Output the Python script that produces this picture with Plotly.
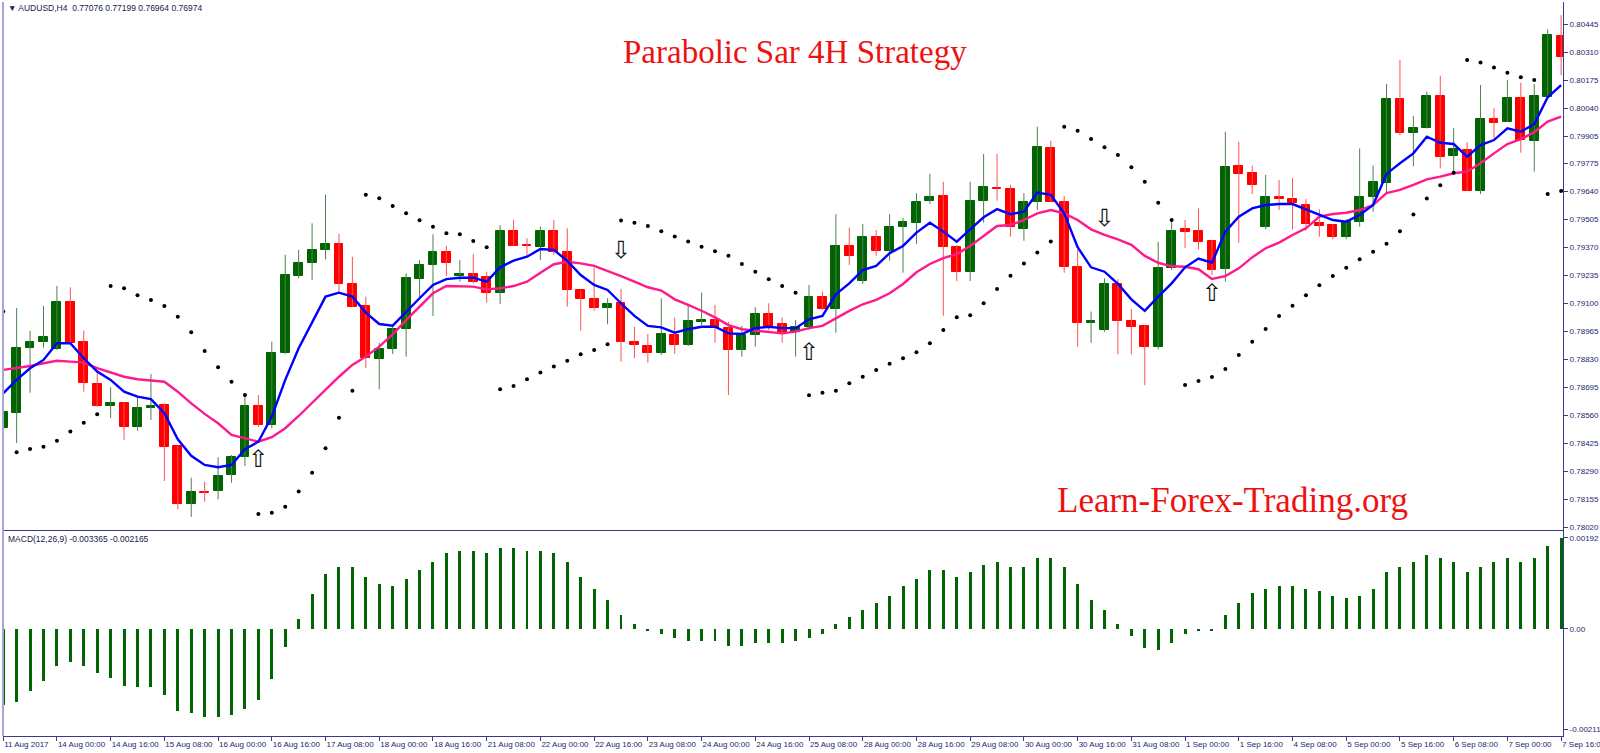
import plotly.graph_objects as go

# ---------------- data ----------------
time_labels = ["11 Aug 2017", "14 Aug 00:00", "14 Aug 16:00", "15 Aug 08:00", "16 Aug 00:00",
               "16 Aug 16:00", "17 Aug 08:00", "18 Aug 00:00", "18 Aug 16:00", "21 Aug 08:00",
               "22 Aug 00:00", "22 Aug 16:00", "23 Aug 08:00", "24 Aug 00:00", "24 Aug 16:00",
               "25 Aug 08:00", "28 Aug 00:00", "28 Aug 16:00", "29 Aug 08:00", "30 Aug 00:00",
               "30 Aug 16:00", "31 Aug 08:00", "1 Sep 00:00", "1 Sep 16:00", "4 Sep 08:00",
               "5 Sep 00:00", "5 Sep 16:00", "6 Sep 08:00", "7 Sep 00:00", "7 Sep 16:00"]
label_every = 4

opens = [0.78499, 0.78573, 0.78883, 0.78915, 0.78880, 0.79106, 0.78912, 0.78711, 0.78605, 0.78618,
         0.78503, 0.78596, 0.78609, 0.78413, 0.78133, 0.78191, 0.78196, 0.78273, 0.78358, 0.78605,
         0.78514, 0.78859, 0.79231, 0.79295, 0.79357, 0.79386, 0.79191, 0.79087, 0.78830, 0.78878,
         0.78976, 0.79218, 0.79284, 0.79347, 0.79233, 0.79240, 0.79228, 0.79151, 0.79450, 0.79379,
         0.79372, 0.79450, 0.79348, 0.79164, 0.79119, 0.79077, 0.79100, 0.78915, 0.78896, 0.78862,
         0.78947, 0.78899, 0.79011, 0.79018, 0.78980, 0.78875, 0.78947, 0.79048, 0.79000, 0.78963,
         0.78984, 0.79132, 0.79071, 0.79376, 0.79207, 0.79421, 0.79350, 0.79466, 0.79488, 0.79593,
         0.79617, 0.79372, 0.79252, 0.79594, 0.79657, 0.79650, 0.79458, 0.79588, 0.79849, 0.79589,
         0.79273, 0.79004, 0.78971, 0.79193, 0.79016, 0.78991, 0.78891, 0.79268, 0.79456, 0.79450,
         0.79400, 0.79264, 0.79761, 0.79726, 0.79466, 0.79613, 0.79601, 0.79573, 0.79488, 0.79477,
         0.79421, 0.79491, 0.79613, 0.79681, 0.80085, 0.79919, 0.79943, 0.80098, 0.79811, 0.79838,
         0.79642, 0.79986, 0.79975, 0.80087, 0.79883, 0.80095, 0.80387]

highs = [0.78610, 0.79077, 0.78967, 0.79087, 0.79183, 0.79177, 0.78968, 0.78771, 0.78695, 0.78621,
         0.78650, 0.78759, 0.78618, 0.78413, 0.78260, 0.78241, 0.78358, 0.78369, 0.78658, 0.78658,
         0.78915, 0.79333, 0.79357, 0.79485, 0.79622, 0.79434, 0.79324, 0.79132, 0.78909, 0.78986,
         0.79244, 0.79308, 0.79432, 0.79377, 0.79308, 0.79337, 0.79252, 0.79476, 0.79501, 0.79413,
         0.79469, 0.79501, 0.79461, 0.79164, 0.79271, 0.79124, 0.79169, 0.78987, 0.78952, 0.79124,
         0.79031, 0.79087, 0.79151, 0.79092, 0.79011, 0.78991, 0.79081, 0.79100, 0.79032, 0.79019,
         0.79188, 0.79156, 0.79529, 0.79464, 0.79482, 0.79453, 0.79529, 0.79512, 0.79630, 0.79723,
         0.79685, 0.79381, 0.79685, 0.79819, 0.79819, 0.79670, 0.79630, 0.79950, 0.79883, 0.79617,
         0.79357, 0.79060, 0.79220, 0.79216, 0.79072, 0.78995, 0.79397, 0.79505, 0.79501, 0.79557,
         0.79405, 0.79926, 0.79878, 0.79763, 0.79718, 0.79694, 0.79702, 0.79601, 0.79553, 0.79482,
         0.79505, 0.79846, 0.79763, 0.80156, 0.80272, 0.80002, 0.80119, 0.80196, 0.79943, 0.79875,
         0.80151, 0.80039, 0.80175, 0.80162, 0.80156, 0.80419, 0.80488]

lows = [0.78461, 0.78427, 0.78669, 0.78886, 0.78875, 0.78909, 0.78674, 0.78601, 0.78546, 0.78442,
        0.78486, 0.78538, 0.78244, 0.78108, 0.78071, 0.78144, 0.78156, 0.78236, 0.78316, 0.78503,
        0.78498, 0.78856, 0.79220, 0.79212, 0.79312, 0.79156, 0.79082, 0.78787, 0.78686, 0.78856,
        0.78843, 0.79116, 0.79039, 0.79231, 0.79204, 0.79196, 0.79103, 0.79097, 0.79376, 0.79331,
        0.79308, 0.79333, 0.79084, 0.78968, 0.79064, 0.78999, 0.78819, 0.78835, 0.78814, 0.78851,
        0.78856, 0.78894, 0.78995, 0.78910, 0.78658, 0.78843, 0.78891, 0.78971, 0.78910, 0.78843,
        0.78971, 0.79068, 0.78958, 0.79284, 0.79193, 0.79329, 0.79305, 0.79247, 0.79386, 0.79578,
        0.79040, 0.79207, 0.79207, 0.79488, 0.79594, 0.79421, 0.79401, 0.79549, 0.79588, 0.79247,
        0.78891, 0.78910, 0.78963, 0.78854, 0.78854, 0.78706, 0.78878, 0.79260, 0.79365, 0.79360,
        0.79236, 0.79204, 0.79392, 0.79626, 0.79456, 0.79549, 0.79456, 0.79450, 0.79421, 0.79408,
        0.79408, 0.79469, 0.79541, 0.79630, 0.79910, 0.79761, 0.79942, 0.79750, 0.79734, 0.79641,
        0.79626, 0.79895, 0.79973, 0.79825, 0.79734, 0.80093, 0.80199]

closes = [0.78576, 0.78883, 0.78912, 0.78938, 0.79106, 0.78910, 0.78715, 0.78605, 0.78618, 0.78503,
          0.78596, 0.78605, 0.78409, 0.78133, 0.78191, 0.78185, 0.78268, 0.78358, 0.78605, 0.78514,
          0.78859, 0.79236, 0.79292, 0.79357, 0.79386, 0.79191, 0.79084, 0.78835, 0.78880, 0.78976,
          0.79220, 0.79284, 0.79347, 0.79292, 0.79240, 0.79204, 0.79151, 0.79450, 0.79377, 0.79374,
          0.79450, 0.79347, 0.79165, 0.79119, 0.79077, 0.79097, 0.78915, 0.78900, 0.78862, 0.78951,
          0.78899, 0.79015, 0.79018, 0.78980, 0.78875, 0.78947, 0.79048, 0.78987, 0.78963, 0.78987,
          0.79132, 0.79071, 0.79376, 0.79328, 0.79421, 0.79350, 0.79469, 0.79491, 0.79589, 0.79613,
          0.79370, 0.79252, 0.79594, 0.79659, 0.79649, 0.79466, 0.79588, 0.79854, 0.79589, 0.79273,
          0.79004, 0.79016, 0.79193, 0.79016, 0.78987, 0.78891, 0.79271, 0.79450, 0.79445, 0.79397,
          0.79260, 0.79755, 0.79721, 0.79670, 0.79613, 0.79601, 0.79582, 0.79482, 0.79474, 0.79418,
          0.79493, 0.79613, 0.79683, 0.80082, 0.79919, 0.79946, 0.80098, 0.79806, 0.79843, 0.79642,
          0.79986, 0.79970, 0.80087, 0.79886, 0.80098, 0.80392, 0.80288]

sar = [0.79060, 0.78382, 0.78398, 0.78409, 0.78438, 0.78482, 0.78525, 0.78565, 0.79183, 0.79172,
       0.79138, 0.79116, 0.79087, 0.79035, 0.78960, 0.78870, 0.78792, 0.78722, 0.78658, 0.78085,
       0.78091, 0.78120, 0.78193, 0.78284, 0.78402, 0.78549, 0.78678, 0.79622, 0.79606, 0.79568,
       0.79533, 0.79500, 0.79469, 0.79437, 0.79432, 0.79400, 0.79370, 0.78686, 0.78702, 0.78734,
       0.78766, 0.78795, 0.78823, 0.78854, 0.78875, 0.78902, 0.79498, 0.79488, 0.79472, 0.79447,
       0.79421, 0.79397, 0.79372, 0.79350, 0.79329, 0.79289, 0.79252, 0.79216, 0.79183, 0.79151,
       0.78657, 0.78669, 0.78678, 0.78715, 0.78746, 0.78779, 0.78808, 0.78835, 0.78864, 0.78907,
       0.78971, 0.79032, 0.79042, 0.79100, 0.79169, 0.79233, 0.79292, 0.79344, 0.79397, 0.79950,
       0.79931, 0.79891, 0.79851, 0.79814, 0.79755, 0.79685, 0.79584, 0.79501, 0.78706, 0.78726,
       0.78745, 0.78783, 0.78851, 0.78914, 0.78976, 0.79039, 0.79088, 0.79138, 0.79187, 0.79231,
       0.79271, 0.79312, 0.79348, 0.79386, 0.79447, 0.79527, 0.79604, 0.79668, 0.79729, 0.80272,
       0.80259, 0.80235, 0.80210, 0.80188, 0.80175, 0.79626, 0.79641]

ma_fast = [0.78666, 0.78731, 0.78787, 0.78827, 0.78907, 0.78907, 0.78835, 0.78771, 0.78731, 0.78674,
           0.78650, 0.78638, 0.78570, 0.78445, 0.78365, 0.78321, 0.78310, 0.78321, 0.78397, 0.78433,
           0.78554, 0.78731, 0.78883, 0.79004, 0.79132, 0.79151, 0.79132, 0.79055, 0.79000, 0.78992,
           0.79060, 0.79124, 0.79188, 0.79216, 0.79223, 0.79223, 0.79204, 0.79273, 0.79305, 0.79324,
           0.79361, 0.79357, 0.79304, 0.79236, 0.79188, 0.79164, 0.79100, 0.79039, 0.78991, 0.78984,
           0.78958, 0.78975, 0.78987, 0.78987, 0.78955, 0.78952, 0.78980, 0.78987, 0.78980, 0.78980,
           0.79023, 0.79039, 0.79143, 0.79196, 0.79260, 0.79280, 0.79341, 0.79376, 0.79440, 0.79488,
           0.79445, 0.79397, 0.79456, 0.79514, 0.79553, 0.79529, 0.79541, 0.79633, 0.79622, 0.79533,
           0.79370, 0.79273, 0.79252, 0.79193, 0.79119, 0.79063, 0.79132, 0.79196, 0.79273, 0.79315,
           0.79295, 0.79445, 0.79517, 0.79557, 0.79573, 0.79578, 0.79578, 0.79553, 0.79525, 0.79501,
           0.79493, 0.79525, 0.79573, 0.79723, 0.79774, 0.79822, 0.79902, 0.79873, 0.79867, 0.79806,
           0.79862, 0.79886, 0.79943, 0.79926, 0.79963, 0.80092, 0.80151]

ma_slow = [0.78779, 0.78787, 0.78798, 0.78811, 0.78823, 0.78819, 0.78814, 0.78787, 0.78766, 0.78746,
           0.78734, 0.78727, 0.78722, 0.78674, 0.78618, 0.78567, 0.78522, 0.78466, 0.78450, 0.78433,
           0.78455, 0.78498, 0.78557, 0.78621, 0.78682, 0.78746, 0.78803, 0.78843, 0.78891, 0.78950,
           0.79019, 0.79084, 0.79148, 0.79183, 0.79183, 0.79180, 0.79167, 0.79172, 0.79183, 0.79204,
           0.79247, 0.79288, 0.79300, 0.79292, 0.79280, 0.79257, 0.79231, 0.79204, 0.79177, 0.79161,
           0.79119, 0.79092, 0.79064, 0.79032, 0.78995, 0.78975, 0.78968, 0.78963, 0.78955, 0.78963,
           0.78980, 0.78991, 0.79028, 0.79063, 0.79095, 0.79116, 0.79148, 0.79193, 0.79249, 0.79289,
           0.79317, 0.79337, 0.79376, 0.79424, 0.79472, 0.79477, 0.79501, 0.79533, 0.79549, 0.79533,
           0.79501, 0.79456, 0.79429, 0.79408, 0.79381, 0.79328, 0.79295, 0.79278, 0.79276, 0.79264,
           0.79217, 0.79231, 0.79268, 0.79321, 0.79365, 0.79392, 0.79429, 0.79461, 0.79517, 0.79530,
           0.79536, 0.79549, 0.79573, 0.79630, 0.79646, 0.79670, 0.79697, 0.79710, 0.79726, 0.79734,
           0.79774, 0.79822, 0.79867, 0.79890, 0.79924, 0.79975, 0.79999]

macd_hist = [-0.00159, -0.00154, -0.00131, -0.00110, -0.00078, -0.00069, -0.00078, -0.00092, -0.00104, -0.00119,
             -0.00122, -0.00122, -0.00138, -0.00172, -0.00177, -0.00186, -0.00186, -0.00182, -0.00168, -0.00150,
             -0.00105, -0.00037, 0.00022, 0.00074, 0.00115, 0.00131, 0.00131, 0.00109, 0.00095, 0.00090,
             0.00105, 0.00125, 0.00140, 0.00160, 0.00165, 0.00165, 0.00160, 0.00170, 0.00170, 0.00165,
             0.00165, 0.00160, 0.00140, 0.00110, 0.00085, 0.00060, 0.00030, 0.00010, -0.00005, -0.00010,
             -0.00020, -0.00025, -0.00025, -0.00025, -0.00035, -0.00035, -0.00030, -0.00030, -0.00030, -0.00025,
             -0.00020, -0.00010, 0.00010, 0.00025, 0.00040, 0.00055, 0.00070, 0.00090, 0.00105, 0.00125,
             0.00125, 0.00110, 0.00120, 0.00135, 0.00140, 0.00130, 0.00130, 0.00150, 0.00150, 0.00130,
             0.00095, 0.00060, 0.00040, 0.00010, -0.00015, -0.00040, -0.00045, -0.00030, -0.00010, -0.00005,
             -0.00005, 0.00030, 0.00055, 0.00075, 0.00085, 0.00090, 0.00090, 0.00085, 0.00080, 0.00070,
             0.00065, 0.00070, 0.00085, 0.00120, 0.00130, 0.00140, 0.00155, 0.00150, 0.00140, 0.00120,
             0.00130, 0.00140, 0.00150, 0.00140, 0.00150, 0.00175, 0.00192]

arrow_up_bars = [19, 60, 90]
arrow_up_prices = [0.78340, 0.78856, 0.79140]
arrow_down_bars = [46, 82]
arrow_down_prices = [0.79349, 0.79499]

price_ticks = [0.80445, 0.80310, 0.80175, 0.80040, 0.79905, 0.79775, 0.79640, 0.79505, 0.79370,
               0.79235, 0.79100, 0.78965, 0.78830, 0.78695, 0.78560, 0.78425, 0.78290, 0.78155, 0.78020]
macd_ticks = [0.00192, 0.0, -0.002117]
macd_tick_text = ["0.00192", "0.00", "-0.002117"]

header_text = "\u25BC AUDUSD,H4  0.77076 0.77199 0.76964 0.76974"
macd_text = "MACD(12,26,9) -0.003365 -0.002165"
title_text = "Parabolic Sar 4H Strategy"
site_text = "Learn-Forex-Trading.org"

# ---------------- styling ----------------
BULL = "#006400"
BEAR = "#ff0000"
AXIS = "#3a3a8a"
LABEL = "#1e1e6e"
FONT = "Liberation Sans"

n = len(opens)
bars = list(range(n))
up = [i for i in bars if closes[i] >= opens[i]]
dn = [i for i in bars if closes[i] < opens[i]]

def wick_xy(idx):
    xs, ys = [], []
    for i in idx:
        xs += [i, i, None]
        ys += [lows[i], highs[i], None]
    return xs, ys

fig = go.Figure()

for idx, col in ((up, "#4f7f4f"), (dn, "#ff5050")):
    wx, wy = wick_xy(idx)
    fig.add_trace(go.Scatter(x=wx, y=wy, mode="lines", line=dict(color=col, width=1),
                             xaxis="x", yaxis="y", hoverinfo="skip", showlegend=False))

for idx, col in ((up, BULL), (dn, BEAR)):
    fig.add_trace(go.Bar(x=idx,
                         y=[abs(closes[i] - opens[i]) for i in idx],
                         base=[min(opens[i], closes[i]) for i in idx],
                         width=0.66, marker=dict(color=col, line=dict(color=col, width=1)),
                         xaxis="x", yaxis="y", showlegend=False, hoverinfo="skip"))

fig.add_trace(go.Scatter(x=bars, y=ma_slow, mode="lines", line=dict(color="#ff1a8c", width=2.4),
                         xaxis="x", yaxis="y", showlegend=False, hoverinfo="skip"))
fig.add_trace(go.Scatter(x=bars, y=ma_fast, mode="lines", line=dict(color="#0000ff", width=2.4),
                         xaxis="x", yaxis="y", showlegend=False, hoverinfo="skip"))
fig.add_trace(go.Scatter(x=bars, y=sar, mode="markers",
                         marker=dict(color="black", size=4, symbol="circle"),
                         xaxis="x", yaxis="y", showlegend=False, hoverinfo="skip"))

fig.add_trace(go.Scatter(x=arrow_up_bars, y=arrow_up_prices, mode="text", text=["\u21E7"] * len(arrow_up_bars),
                         textfont=dict(family="DejaVu Sans", size=24, color="#111111"),
                         xaxis="x", yaxis="y", showlegend=False, hoverinfo="skip"))
fig.add_trace(go.Scatter(x=arrow_down_bars, y=arrow_down_prices, mode="text", text=["\u21E9"] * len(arrow_down_bars),
                         textfont=dict(family="DejaVu Sans", size=24, color="#111111"),
                         xaxis="x", yaxis="y", showlegend=False, hoverinfo="skip"))

fig.add_trace(go.Bar(x=bars, y=macd_hist, width=0.22, marker=dict(color=BULL, line=dict(width=0)),
                     xaxis="x2", yaxis="y2", showlegend=False, hoverinfo="skip"))

XR = [-0.015, 116.14]
main_dom = [0.2807, 1.0]
macd_dom = [0.0, 0.2793]

fig.update_layout(
    template="none",
    width=1600, height=753, autosize=False,
    margin=dict(l=3, r=37, t=2, b=17, pad=0),
    paper_bgcolor="white", plot_bgcolor="white",
    barmode="overlay", bargap=0,
    showlegend=False,
    font=dict(family=FONT, size=8, color=LABEL),
    xaxis=dict(domain=[0, 1], range=XR, anchor="y", showgrid=False, zeroline=False, automargin=False,
               showticklabels=False, ticks="", showline=True, linecolor=AXIS, linewidth=1),
    xaxis2=dict(domain=[0, 1], range=XR, anchor="y2", showgrid=False, zeroline=False, automargin=False,
                showline=True, linecolor=AXIS, linewidth=1, mirror=True,
                tickmode="array", tickvals=[i * label_every for i in range(len(time_labels))],
                ticktext=time_labels, ticks="outside", ticklen=4, tickcolor=AXIS, tickangle=0,
                ticklabelposition="outside right", ticklabeloverflow="allow",
                tickfont=dict(family=FONT, size=8, color=LABEL)),
    yaxis=dict(domain=main_dom, range=[0.78008, 0.80551], side="right", anchor="x", automargin=False,
               showgrid=False, zeroline=False, showline=True, linecolor=AXIS, linewidth=1,
               tickmode="array", tickvals=price_ticks, ticktext=["%.5f" % v for v in price_ticks],
               ticks="outside", ticklen=4, tickcolor=AXIS,
               tickfont=dict(family=FONT, size=8, color=LABEL)),
    yaxis2=dict(domain=macd_dom, range=[-0.002253, 0.002063], side="right", anchor="x2", automargin=False,
                showgrid=False, zeroline=False, showline=True, linecolor=AXIS, linewidth=1,
                tickmode="array", tickvals=macd_ticks, ticktext=macd_tick_text,
                ticks="outside", ticklen=4, tickcolor=AXIS,
                tickfont=dict(family=FONT, size=8, color=LABEL)),
)

# left window border
fig.add_shape(type="line", xref="paper", yref="paper", x0=0, x1=0, y0=0, y1=1,
              line=dict(color="#a6a6d6", width=2))

fig.add_annotation(text=header_text, xref="paper", yref="paper", x=0.002, y=0.9918,
                   xanchor="left", yanchor="middle", showarrow=False,
                   font=dict(family=FONT, size=8.5, color="#20204a"))
fig.add_annotation(text=macd_text, xref="paper", yref="paper", x=0.002, y=0.2684,
                   xanchor="left", yanchor="middle", showarrow=False,
                   font=dict(family=FONT, size=8.5, color="#20204a"))
fig.add_annotation(text=title_text, xref="paper", yref="paper", x=0.508, y=0.932,
                   xanchor="center", yanchor="middle", showarrow=False,
                   font=dict(family="Liberation Serif", size=33, color="#ee1111"))
fig.add_annotation(text=site_text, xref="paper", yref="paper", x=0.788, y=0.3215,
                   xanchor="center", yanchor="middle", showarrow=False,
                   font=dict(family="Liberation Serif", size=35, color="#ee1111"))

fig.write_html("out.html", config={"displayModeBar": False},
               post_script="document.body.style.margin='0';document.body.style.overflow='hidden';")
